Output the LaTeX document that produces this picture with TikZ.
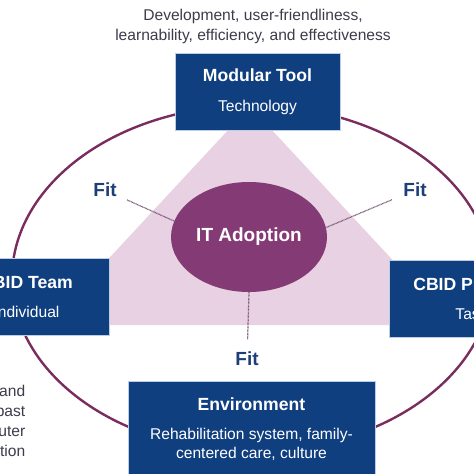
\documentclass[tikz,border=0pt]{standalone}
\usepackage{fontspec}
\setmainfont{Liberation Sans}
\usepackage{tikz}
\usetikzlibrary{shapes.geometric}
\definecolor{boxblue}{RGB}{16,63,128}
\definecolor{boxedge}{RGB}{190,205,230}
\definecolor{ringpurple}{RGB}{122,44,94}
\definecolor{adoptpurple}{RGB}{132,58,117}
\definecolor{trianglepink}{RGB}{231,209,227}
\definecolor{fitblue}{RGB}{30,62,120}
\definecolor{notegray}{RGB}{60,60,75}
\definecolor{dotgray}{RGB}{120,88,115}
\newcommand{\boxtitle}[1]{{\fontsize{17.6pt}{21pt}\selectfont\bfseries #1}}

\begin{document}
\begin{tikzpicture}[x=1pt, y=-1pt,
    factor/.style={draw=boxedge, line width=0.6pt, fill=boxblue, text=white, align=center,
        inner sep=0pt, minimum width=165pt, minimum height=77pt,
        font=\fontsize{15.6pt}{19pt}\selectfont},
    adoption/.style={ellipse, fill=adoptpurple, text=white, inner sep=0pt,
        minimum width=156pt, minimum height=110pt, font=\fontsize{19pt}{22pt}\selectfont\bfseries},
    fitlabel/.style={text=fitblue, inner sep=2pt, font=\fontsize{19pt}{22pt}\selectfont\bfseries},
    fitline/.style={draw=dotgray, line width=1.2pt, dash pattern=on 0.8pt off 0.6pt},
    note/.style={text=notegray, inner sep=0pt, font=\fontsize{15.6pt}{20pt}\selectfont}]
    \useasboundingbox (0,0) rectangle (474,474);
    \clip (0,0) rectangle (474,474);

    \fill[trianglepink] (250,106.5) -- (47,325) -- (453,325) -- cycle;
    \draw[ringpurple, line width=2.4pt] (252,278.5) ellipse [x radius=240pt, y radius=173pt];

    \node[adoption] (adopt) at (249,237) {IT Adoption};
    \node[fitlabel] (fitL) at (105,190) {Fit};
    \node[fitlabel] (fitR) at (415,190) {Fit};
    \node[fitlabel] (fitB) at (247,359) {Fit};
    \draw[fitline, shorten <=9pt] (fitL) -- (adopt.168);
    \draw[fitline, shorten <=10pt] (fitR) -- (adopt.7);
    \draw[fitline, shorten >=10pt] (adopt.south) -- (fitB);

    \node[factor] (tool) at (257.5,92) {\boxtitle{Modular Tool}\\[11pt]Technology};
    \node[factor] (team) at (26.5,296.5) {\boxtitle{CBID Team}\\[10pt]Individual};
    \node[factor] (process) at (471.5,298.5) {\boxtitle{CBID Process}\\[10pt]Task};
    \node[factor, minimum width=247pt, minimum height=96pt] (env) at (251.5,429)
        {\boxtitle{Environment}\\[10.5pt]Rehabilitation system, family-\\centered care, culture};

    \node[note, align=center] (toolnote) at (253,26)
        {Development, user-friendliness,\\learnability, efficiency, and effectiveness};
    \node[note, align=right, anchor=east] (teamnote) at (25.5,421)
        {Motivation, attitude and\\experience with past\\use of a computer\\and education};
\end{tikzpicture}
\end{document}
